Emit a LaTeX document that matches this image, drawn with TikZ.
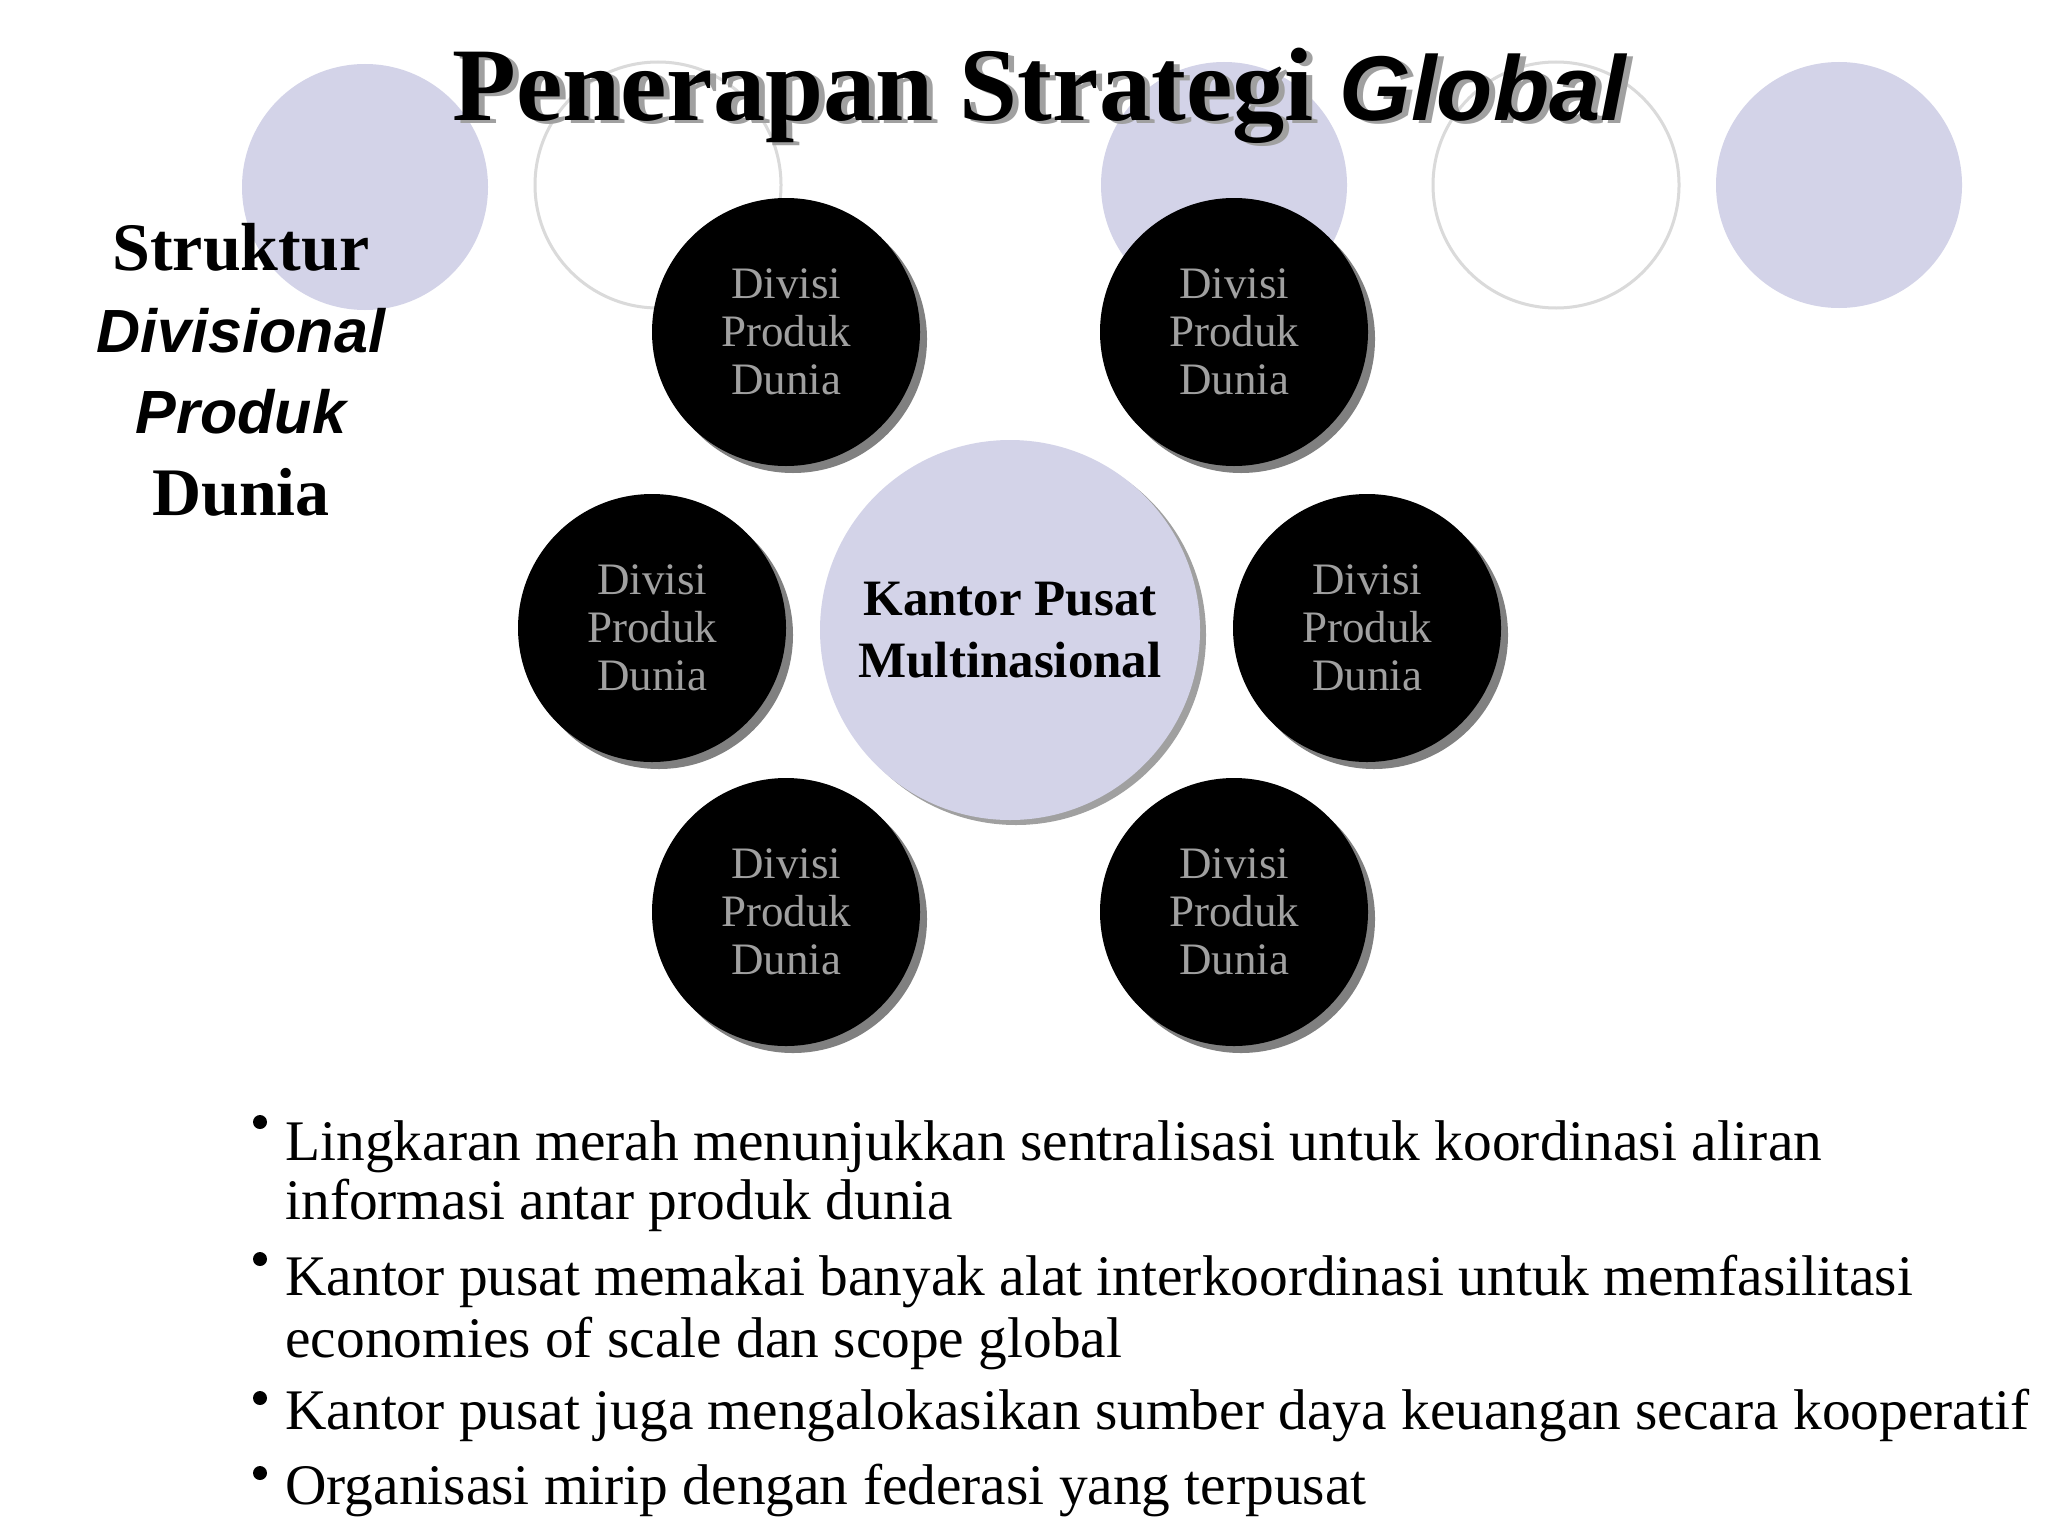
\documentclass[tikz,border=0pt]{standalone}
\usepackage{fontspec}
\setmainfont{Liberation Serif}
\setsansfont{Liberation Sans}
\usetikzlibrary{shadows}
\definecolor{lavender}{RGB}{211,211,232}
\definecolor{ringgray}{RGB}{218,218,218}
\definecolor{divgray}{RGB}{160,160,160}
\definecolor{shadegray}{RGB}{128,128,128}
\newcommand{\shadowed}[1]{\makebox[0pt][l]{\kern3pt\raisebox{-1.5pt}{\color{divgray}#1}}#1}

\begin{document}
\begin{tikzpicture}[x=0.5pt, y=-0.5pt,
    divisi/.style={circle, fill=black, minimum size=134pt, inner sep=0pt, align=center, text=divgray,
        font=\fontsize{22.5}{24}\selectfont,
        drop shadow={shadow xshift=3.5pt, shadow yshift=-3.5pt, fill=shadegray, opacity=1}},
    pusat/.style={circle, fill=lavender, minimum size=190pt, inner sep=0pt, align=center,
        font=\bfseries\fontsize{25.5}{31}\selectfont,
        drop shadow={shadow xshift=3pt, shadow yshift=-2.5pt, fill=divgray, opacity=1}},
    poin/.style={anchor=base west, inner sep=0pt, font=\fontsize{28.7}{30}\selectfont},
    dot/.style={circle, fill=black, minimum size=7pt, inner sep=0pt},
    sisi/.style={anchor=base, inner sep=0pt}]
    \useasboundingbox (0,0) rectangle (2048,1536);
    \fill[white] (0,0) rectangle (2048,1536);

    \fill[lavender] (365,187) circle (123); \fill[lavender] (1224,185) circle (123); \fill[lavender] (1839,185) circle (123);
    \draw[ringgray, line width=1.5pt] (658,185) circle (123); \draw[ringgray, line width=1.5pt] (1556,185) circle (123);

    \node[anchor=base west, inner sep=0pt, font=\bfseries\fontsize{52.2}{60}\selectfont] (title) at (452,120) {\shadowed{Penerapan Strategi {\sffamily\itshape\fontsize{46}{60}\selectfont Global}}};

    \node[sisi, font=\bfseries\fontsize{34}{40}\selectfont] (sisi1) at (241,270) {Struktur};
    \node[sisi, font=\sffamily\bfseries\itshape\fontsize{30.5}{40}\selectfont] (sisi2) at (241,352) {Divisional};
    \node[sisi, font=\sffamily\bfseries\itshape\fontsize{30.5}{40}\selectfont] (sisi3) at (241,433) {Produk};
    \node[sisi, font=\bfseries\fontsize{34}{40}\selectfont] (sisi4) at (241,515) {Dunia};

    \node[pusat] (hq) at (1010,630) {Kantor Pusat\\Multinasional};
    \node[divisi] (div1) at (786,332) {Divisi\\Produk\\Dunia}; \node[divisi] (div2) at (1234,332) {Divisi\\Produk\\Dunia};
    \node[divisi] (div3) at (652,628) {Divisi\\Produk\\Dunia}; \node[divisi] (div4) at (1367,628) {Divisi\\Produk\\Dunia};
    \node[divisi] (div5) at (786,912) {Divisi\\Produk\\Dunia}; \node[divisi] (div6) at (1234,912) {Divisi\\Produk\\Dunia};

    \node[dot] (b1) at (260,1122) {}; \node[poin] (t1) at (285,1160) {Lingkaran merah menunjukkan sentralisasi untuk koordinasi aliran};
    \node[poin] (t2) at (285,1219) {informasi antar produk dunia};
    \node[dot] (b2) at (260,1259) {}; \node[poin] (t3) at (285,1295) {Kantor pusat memakai banyak alat interkoordinasi untuk memfasilitasi};
    \node[poin] (t4) at (285,1357) {economies of scale dan scope global};
    \node[dot] (b3) at (260,1398) {}; \node[poin] (t5) at (285,1429) {Kantor pusat juga mengalokasikan sumber daya keuangan secara kooperatif};
    \node[dot] (b4) at (260,1473) {}; \node[poin] (t6) at (285,1504) {Organisasi mirip dengan federasi yang terpusat};
\end{tikzpicture}
\end{document}
